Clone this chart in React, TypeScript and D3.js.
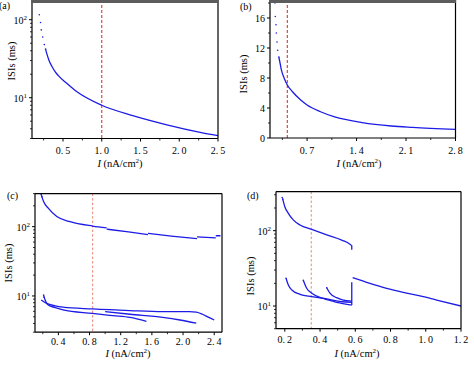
import React from 'react';
import * as d3 from 'd3';

type Pt = [number, number];

// ---------- data (I in nA/cm^2, ISI in ms) ----------
const aDots: Pt[] = [[0.194, 172], [0.194, 116], [0.21, 92], [0.22, 74], [0.238, 60], [0.259, 48], [0.275, 42]];
const aCurve: Pt[] = [[0.275, 42], [0.29, 37], [0.32, 30], [0.354, 25.5], [0.4, 21.5], [0.44, 19.2], [0.548, 15.3], [0.68, 11.9], [1.0, 8.0], [1.4, 5.9], [1.84, 4.5], [2.27, 3.6], [2.5, 3.26]];
const aMarker = 1.0;
const aXTicks = [0.5, 1.0, 1.5, 2.0, 2.5];

const bDots: Pt[] = [[0.246, 18], [0.25, 16.2], [0.26, 15.1], [0.265, 14], [0.274, 12.8], [0.284, 11.7], [0.3, 10.8]];
const bCurve: Pt[] = [[0.3, 10.8], [0.313, 10.2], [0.336, 9.07], [0.374, 8.0], [0.42, 7.07], [0.49, 6.2], [0.61, 5.07], [0.7, 4.4], [0.89, 3.5], [1.08, 2.85], [1.48, 2.05], [1.89, 1.6], [2.19, 1.42], [2.8, 1.16]];
const bMarker = 0.42;
const bXTicks = [0.7, 1.4, 2.1, 2.8];
const bYTicks = [0, 4, 8, 12, 16];

const cTopA: Pt[] = [[0.18, 290], [0.21, 230], [0.27, 185], [0.38, 140], [0.55, 118], [0.84, 102], [1.02, 96]];
const cTopB: Pt[] = [[1.02, 92], [1.3, 84], [1.55, 77]];
const cTopC: Pt[] = [[1.55, 80], [1.85, 73], [2.18, 67]];
const cTopD: Pt[] = [[2.18, 71], [2.42, 69]];
const cTopE: Pt[] = [[2.42, 74], [2.48, 74]];
const cLowLong: Pt[] = [[0.18, 8.75], [0.25, 7.8], [0.36, 7.2], [0.46, 6.9], [0.835, 6.5], [1.32, 6.15], [1.74, 5.95], [2.08, 5.95], [2.17, 5.85], [2.25, 5.45], [2.33, 4.9], [2.4, 4.5]];
const cLowB: Pt[] = [[0.21, 10.3], [0.23, 8.75], [0.27, 7.4], [0.36, 6.8], [0.46, 6.3], [0.835, 5.6], [1.1, 5.2], [1.32, 4.9], [1.53, 4.3]];
const cLowC: Pt[] = [[1.0, 5.95], [1.32, 5.45], [1.74, 4.9], [1.96, 4.5], [2.17, 4.05]];
const cDots: Pt[] = [[0.18, 290], [0.19, 270], [0.21, 10.3], [0.215, 9.6]];
const cMarker = 0.84;
const cXTicks = [0.4, 0.8, 1.2, 1.6, 2.0, 2.4];

const dTop: Pt[] = [[0.188, 264], [0.2, 208], [0.22, 170], [0.248, 139], [0.286, 119], [0.353, 104], [0.438, 88], [0.523, 75], [0.57, 66], [0.58, 63]];
const dTopDrop: Pt[] = [[0.58, 64], [0.58, 56]];
const dL1: Pt[] = [[0.207, 23.4], [0.22, 19], [0.24, 16.3], [0.286, 14.3], [0.353, 13.3], [0.438, 12.4], [0.523, 11.4], [0.58, 11.2]];
const dL2: Pt[] = [[0.305, 22], [0.324, 17.2], [0.353, 14.8], [0.418, 12.6], [0.494, 11.2], [0.58, 10.3]];
const dL3: Pt[] = [[0.438, 17.5], [0.456, 14.8], [0.494, 12.9], [0.532, 12], [0.58, 11.6]];
const dJump: Pt[] = [[0.58, 20.6], [0.58, 10.3]];
const dRight: Pt[] = [[0.585, 23.8], [0.683, 20], [0.778, 17.2], [0.872, 15.2], [0.967, 13.6], [1.062, 12], [1.2, 10]];
const dDots: Pt[] = [[0.185, 275], [0.188, 264], [0.207, 23.4], [0.305, 22], [0.438, 17.5]];
const dMarker = 0.35;
const dXTicks = [0.2, 0.4, 0.6, 0.8, 1.0, 1.2];

const logYTicks = [10, 100];

// ---------- drawing ----------
const BLUE = '#1c1ce6';
const FONT = "'Liberation Serif', 'Times New Roman', serif";

const fmt = (v: number) => v.toFixed(1).replace('.', '.\u2009');

type PanelProps = {
  x: d3.ScaleLinear<number, number>;
  y: any;
  log: boolean;
  top: number;
  xTicks: number[];
  xMinorStep: number;
  yTicks: number[];
  yMinorStep?: number;
  marker: number;
  markerStyle: { color: string; width: number; dash: string };
  series: Pt[][];
  dots: Pt[];
  label: string;
  labelPos: [number, number];
  yTitlePos: [number, number];
  xTitlePos: [number, number];
  tickBase: number;
  topBar: boolean;
  id: string;
};

function Panel(p: PanelProps) {
  const [x0, x1] = p.x.range();
  const y0 = p.y.range()[0];
  const top = p.top;
  const vis = Math.max(top, 0);
  const line = d3.line<Pt>().x(d => p.x(d[0])).y(d => p.y(d[1])).curve(d3.curveMonotoneX);
  const vline = d3.line<Pt>().x(d => p.x(d[0])).y(d => p.y(d[1]));
  const [dx0, dx1] = p.x.domain();
  const minorX = d3.range(Math.ceil(dx0 / p.xMinorStep - 1e-9) * p.xMinorStep, dx1 + 1e-9, p.xMinorStep)
    .filter(v => !p.xTicks.some(t => Math.abs(t - v) < 1e-6));
  let minorY: number[] = [];
  const [dy0, dy1] = p.y.domain();
  if (p.log) {
    minorY = p.y.ticks().filter((v: number) => !p.yTicks.includes(v) && v >= dy0 && v <= dy1);
  } else if (p.yMinorStep) {
    minorY = d3.range(0, dy1, p.yMinorStep).filter(v => !p.yTicks.includes(v));
  }
  const clipId = 'clip-' + p.id;
  return (
    <g fontFamily={FONT} fill="#000">
      <defs>
        <clipPath id={clipId}>
          <rect x={x0} y={vis} width={x1 - x0} height={y0 - vis} />
        </clipPath>
      </defs>
      <g clipPath={`url(#${clipId})`}>
        <line x1={p.x(p.marker)} x2={p.x(p.marker)} y1={vis} y2={y0}
          stroke={p.markerStyle.color} strokeWidth={p.markerStyle.width} strokeDasharray={p.markerStyle.dash} />
        {p.series.map((s, i) => (
          <path key={i} d={(s.length === 2 && s[0][0] === s[1][0] ? vline(s) : line(s)) || ''} fill="none" stroke={BLUE} strokeWidth={1.3} />
        ))}
        {p.dots.map((d, i) => (
          <circle key={i} cx={p.x(d[0])} cy={p.y(d[1])} r={0.8} fill={BLUE} />
        ))}
      </g>
      <line x1={x0} x2={x1} y1={y0} y2={y0} stroke="#000" strokeWidth={1.2} />
      <line x1={x0} x2={x0} y1={vis} y2={y0} stroke="#000" strokeWidth={1.2} />
      <line x1={x1} x2={x1} y1={vis} y2={y0} stroke="#000" strokeWidth={1.2} />
      {p.topBar ? (
        <rect x={x0 - 0.6} y={0} width={x1 - x0 + 1.2} height={3} fill="#5c5c5c" />
      ) : (
        <line x1={x0} x2={x1} y1={top} y2={top} stroke="#000" strokeWidth={1.2} />
      )}
      {p.xTicks.map(t => (
        <g key={'xt' + t}>
          <line x1={p.x(t)} x2={p.x(t)} y1={y0} y2={y0 + 3} stroke="#000" strokeWidth={1} />
          <text x={p.x(t)} y={p.tickBase} fontSize={10} textAnchor="middle">{fmt(t)}</text>
        </g>
      ))}
      {minorX.map(t => (
        <line key={'xm' + t} x1={p.x(t)} x2={p.x(t)} y1={y0} y2={y0 + 2} stroke="#000" strokeWidth={0.8} />
      ))}
      {p.yTicks.map(t => (
        <g key={'yt' + t}>
          <line x1={x0 - 3} x2={x0} y1={p.y(t)} y2={p.y(t)} stroke="#000" strokeWidth={1} />
          {p.log ? (
            <text x={x0 - 5} y={p.y(t) + 4} fontSize={10} textAnchor="end">
              10<tspan fontSize={7} dy={-4}>{Math.round(Math.log10(t))}</tspan>
            </text>
          ) : (
            <text x={x0 - 5} y={p.y(t) + 3.5} fontSize={10} textAnchor="end">{t}</text>
          )}
        </g>
      ))}
      {minorY.map(t => (
        <line key={'ym' + t} x1={x0 - 2} x2={x0} y1={p.y(t)} y2={p.y(t)} stroke="#000" strokeWidth={0.8} />
      ))}
      <text x={p.labelPos[0]} y={p.labelPos[1]} fontSize={10}>{p.label}</text>
      <text transform={`translate(${p.yTitlePos[0]},${p.yTitlePos[1]}) rotate(-90)`} fontSize={10.5} textAnchor="middle" dominantBaseline="middle">ISIs (ms)</text>
      <text x={p.xTitlePos[0]} y={p.xTitlePos[1]} fontSize={10.5} textAnchor="middle">
        <tspan fontStyle="italic">I</tspan> (nA/cm<tspan fontSize={7} dy={-4}>2</tspan><tspan dy={4}>)</tspan>
      </text>
    </g>
  );
}

export default function App() {
  const redStrong = { color: '#e3342a', width: 1.1, dash: '3,2' };
  const redLight = { color: '#e06a50', width: 0.8, dash: '2.5,2' };

  const ax = d3.scaleLinear().domain([0.1, 2.5]).range([32, 218]);
  const ay = d3.scaleLog().domain([3, 300]).range([138.5, -17.5]);

  const bx = d3.scaleLinear().domain([0.175, 2.8]).range([270, 455.5]);
  const by = d3.scaleLinear().domain([0, 20]).range([138, -12]);

  const cx = d3.scaleLinear().domain([0.1, 2.5]).range([35, 222]);
  const cy = d3.scaleLog().domain([3, 300]).range([332.2, 193.6]);

  const dx = d3.scaleLinear().domain([0.15, 1.2]).range([276, 461]);
  const dy = d3.scaleLog().domain([5, 330]).range([328.7, 191.6]);

  return (
    <svg width={474} height={382} style={{ position: 'absolute', left: 0, top: 0, background: '#fff' }}>
      <rect width={474} height={382} fill="#fff" />
      <Panel id="a" x={ax} y={ay} log top={-17.5} xTicks={aXTicks} xMinorStep={0.25} yTicks={logYTicks}
        marker={aMarker} markerStyle={redStrong} series={[aCurve]} dots={aDots}
        label="(a)" labelPos={[-1, 9]} yTitlePos={[13, 61]} xTitlePos={[120, 167]} tickBase={153.5} topBar />
      <Panel id="b" x={bx} y={by} log={false} top={-12} xTicks={bXTicks} xMinorStep={0.35} yTicks={bYTicks} yMinorStep={2}
        marker={bMarker} markerStyle={redStrong} series={[bCurve]} dots={bDots}
        label="(b)" labelPos={[240, 10]} yTitlePos={[245, 74]} xTitlePos={[359, 167]} tickBase={153.5} topBar />
      <Panel id="c" x={cx} y={cy} log top={193.6} xTicks={cXTicks} xMinorStep={0.2} yTicks={logYTicks}
        marker={cMarker} markerStyle={redLight}
        series={[cTopA, cTopB, cTopC, cTopD, cTopE, cLowLong, cLowB, cLowC]} dots={cDots}
        label="(c)" labelPos={[7, 199]} yTitlePos={[10, 263]} xTitlePos={[128, 357]} tickBase={345} topBar={false} />
      <Panel id="d" x={dx} y={dy} log top={191.6} xTicks={dXTicks} xMinorStep={0.1} yTicks={logYTicks}
        marker={dMarker} markerStyle={redLight}
        series={[dTop, dTopDrop, dL1, dL2, dL3, dJump, dRight]} dots={dDots}
        label="(d)" labelPos={[247, 199]} yTitlePos={[252, 276]} xTitlePos={[357, 357]} tickBase={343} topBar={false} />
    </svg>
  );
}
